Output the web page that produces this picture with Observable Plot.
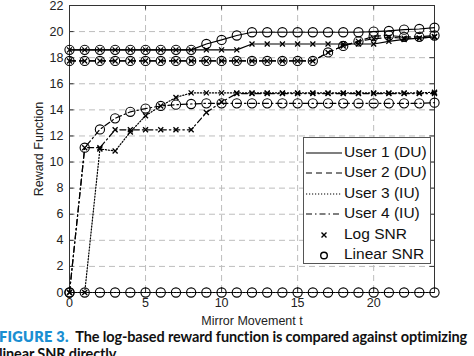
<!DOCTYPE html>
<html>
<head>
<meta charset="utf-8">
<script src="https://cdn.jsdelivr.net/npm/d3@7"></script>
<script src="https://cdn.jsdelivr.net/npm/@observablehq/plot@0.6"></script>
<style>
  body { margin: 0; background: #fff; }
  #wrap { position: relative; width: 474px; height: 356px; overflow: hidden; background:#fff; }
  #legend { position: absolute; left: 303px; top: 137px; width: 126px; height: 125px; background: #fff; border: 1px solid #555; font-family: "Liberation Sans", Arial, sans-serif; font-size: 15.5px; color: #111; }
  .row { position: absolute; left: 0; height: 20px; width: 126px; }
  .row svg { position: absolute; left: 2px; top: 0; }
  .row span { position: absolute; left: 40px; top: 0px; line-height: 18px; }
  #caption { position: absolute; left: -1px; top: 328px; width: 560px; font-family: "Lato", "Open Sans", sans-serif; font-weight: 700; font-size: 14.5px; line-height: 17px; color: #111; white-space: nowrap; letter-spacing: -0.12px; }
  #caption b { color: #1b8fd2; font-weight: 800; letter-spacing: 0.3px; }
</style>
</head>
<body>
<div id="wrap">
  <div id="chart"></div>
  <div id="legend"></div>
  <div id="caption"><b>FIGURE 3.</b>&nbsp; The log-based reward function is compared against optimizing<br>linear SNR directly.</div>
</div>
<script>
// ---- data ----
const t = [0,1,2,3,4,5,6,7,8,9,10,11,12,13,14,15,16,17,18,19,20,21,22,23,24];
const user1Linear = [18.6,18.6,18.6,18.6,18.6,18.6,18.6,18.6,18.6,19.05,19.36,19.7,19.95,19.95,19.95,19.95,19.95,19.95,19.95,19.95,20.0,20.05,20.15,20.2,20.3];
const user1Log    = [18.6,18.6,18.6,18.6,18.6,18.6,18.6,18.6,18.6,18.6,18.6,18.6,19.05,19.05,19.05,19.05,19.05,19.05,19.05,19.05,19.05,19.25,19.4,19.5,19.6];
const user2Linear = [17.75,17.75,17.75,17.75,17.75,17.75,17.75,17.75,17.75,17.75,17.75,17.75,17.75,17.75,17.75,17.75,17.75,18.4,18.9,19.25,19.65,19.7,19.6,19.6,19.7];
const user2Log    = [17.75,17.75,17.75,17.75,17.75,17.75,17.75,17.75,17.75,17.75,17.75,17.75,17.75,17.75,17.75,17.75,17.75,18.4,18.9,19.25,19.45,19.55,19.5,19.5,19.6];
const user3Linear = [0,0,0,0,0,0,0,0,0,0,0,0,0,0,0,0,0,0,0,0,0,0,0,0,0];
const user3Log    = [0,0,11.0,10.85,12.3,13.55,14.3,14.95,15.3,15.3,15.3,15.3,15.3,15.3,15.3,15.3,15.3,15.3,15.3,15.3,15.3,15.3,15.3,15.3,15.35];
const user4Linear = [0,11.1,12.5,13.35,13.85,14.1,14.3,14.4,14.45,14.5,14.5,14.5,14.5,14.5,14.5,14.5,14.5,14.5,14.5,14.5,14.5,14.5,14.5,14.5,14.55];
const user4Log    = [0,11.1,11.1,12.47,12.47,12.47,12.47,12.47,12.47,13.8,14.6,15.25,15.25,15.25,15.25,15.25,15.25,15.25,15.25,15.25,15.25,15.25,15.25,15.25,15.25];

const users = ["User 1 (DU)", "User 2 (DU)", "User 3 (IU)", "User 4 (IU)"];
const methods = ["Log SNR", "Linear SNR"];
const xTicks = [0,5,10,15,20];
const yTicks = [0,2,4,6,8,10,12,14,16,18,20,22];

const series = [
  {user: users[0], method: methods[1], values: user1Linear},
  {user: users[0], method: methods[0], values: user1Log},
  {user: users[1], method: methods[1], values: user2Linear},
  {user: users[1], method: methods[0], values: user2Log},
  {user: users[2], method: methods[1], values: user3Linear},
  {user: users[2], method: methods[0], values: user3Log},
  {user: users[3], method: methods[1], values: user4Linear},
  {user: users[3], method: methods[0], values: user4Log}
];
const dash = {
  "User 1 (DU)": null,
  "User 2 (DU)": "6,4",
  "User 3 (IU)": "1.2,1.8",
  "User 4 (IU)": "6,3,1.5,3"
};

const rows = series.flatMap(s => s.values.map((v, i) => ({t: t[i], v, user: s.user, method: s.method})));

const marks = [
  Plot.ruleX(xTicks, {x: d => d, stroke: "#bdbdbd", strokeWidth: 1, strokeDasharray: "6,4"}),
  Plot.ruleY(yTicks, {y: d => d, stroke: "#bdbdbd", strokeWidth: 1, strokeDasharray: "6,4"}),
  Plot.frame({stroke: "#333", strokeWidth: 1}),
  Plot.ruleX(xTicks, {x: d => d, y1: 0, y2: 0.35, stroke: "#333"}),
  Plot.ruleX(xTicks, {x: d => d, y1: 21.65, y2: 22, stroke: "#333"}),
  Plot.ruleY(yTicks, {y: d => d, x1: 0, x2: 0.3, stroke: "#333"}),
  Plot.ruleY(yTicks, {y: d => d, x1: 23.7, x2: 24, stroke: "#333"}),
  Plot.axisX(xTicks, {tickSize: 0, tickPadding: 6, fontSize: 12.5, label: "Mirror Movement t", labelAnchor: "center", labelOffset: 32, labelArrow: "none", fill: "#222"}),
  Plot.axisY(yTicks, {tickSize: 0, tickPadding: 6, fontSize: 12.5, label: "Reward Function", labelAnchor: "center", labelOffset: 35, labelArrow: "none", fill: "#222"})
];
for (const s of series) {
  const data = rows.filter(d => d.user === s.user && d.method === s.method);
  marks.push(Plot.line(data, {x: "t", y: "v", stroke: "#000", strokeWidth: 1.2, strokeDasharray: dash[s.user]}));
}
for (const s of series) {
  const data = rows.filter(d => d.user === s.user && d.method === s.method);
  if (s.method === "Linear SNR") {
    marks.push(Plot.dot(data, {x: "t", y: "v", r: 4.6, stroke: "#000", strokeWidth: 1.1, fill: "none"}));
  } else {
    marks.push(Plot.dot(data, {x: "t", y: "v", symbol: "times", r: 2.4, stroke: "#000", strokeWidth: 1.3}));
  }
}

const chart = Plot.plot({
  width: 474,
  height: 326,
  marginLeft: 69,
  marginRight: 40,
  marginTop: 5,
  marginBottom: 34,
  style: {fontFamily: "'Liberation Sans', Arial, sans-serif", fontSize: "12.5px", background: "#fff", color: "#222"},
  x: {domain: [0, 24]},
  y: {domain: [0, 22]},
  marks
});
document.getElementById("chart").appendChild(chart);

// legend (HTML overlay)
const legend = document.getElementById("legend");
const legendItems = [
  ...users.map(u => ({label: u, kind: "line", dash: dash[u]})),
  {label: methods[0], kind: "times"},
  {label: methods[1], kind: "circle"}
];
legendItems.forEach((it, i) => {
  const row = document.createElement("div");
  row.className = "row";
  row.style.top = (5 + i * 20.4) + "px";
  let g = "";
  if (it.kind === "line") {
    g = `<line x1="0" x2="36" y1="10" y2="10" stroke="#000" stroke-width="1.1" ${it.dash ? `stroke-dasharray="${it.dash}"` : ""}/>`;
  } else if (it.kind === "times") {
    g = `<path d="M15.5,7.5L20.5,12.5M20.5,7.5L15.5,12.5" stroke="#000" stroke-width="1.4"/>`;
  } else {
    g = `<circle cx="18" cy="10.5" r="3.3" fill="none" stroke="#000" stroke-width="1.4"/>`;
  }
  row.innerHTML = `<svg width="38" height="20">${g}</svg><span>${it.label}</span>`;
  legend.appendChild(row);
});
</script>
</body>
</html>
